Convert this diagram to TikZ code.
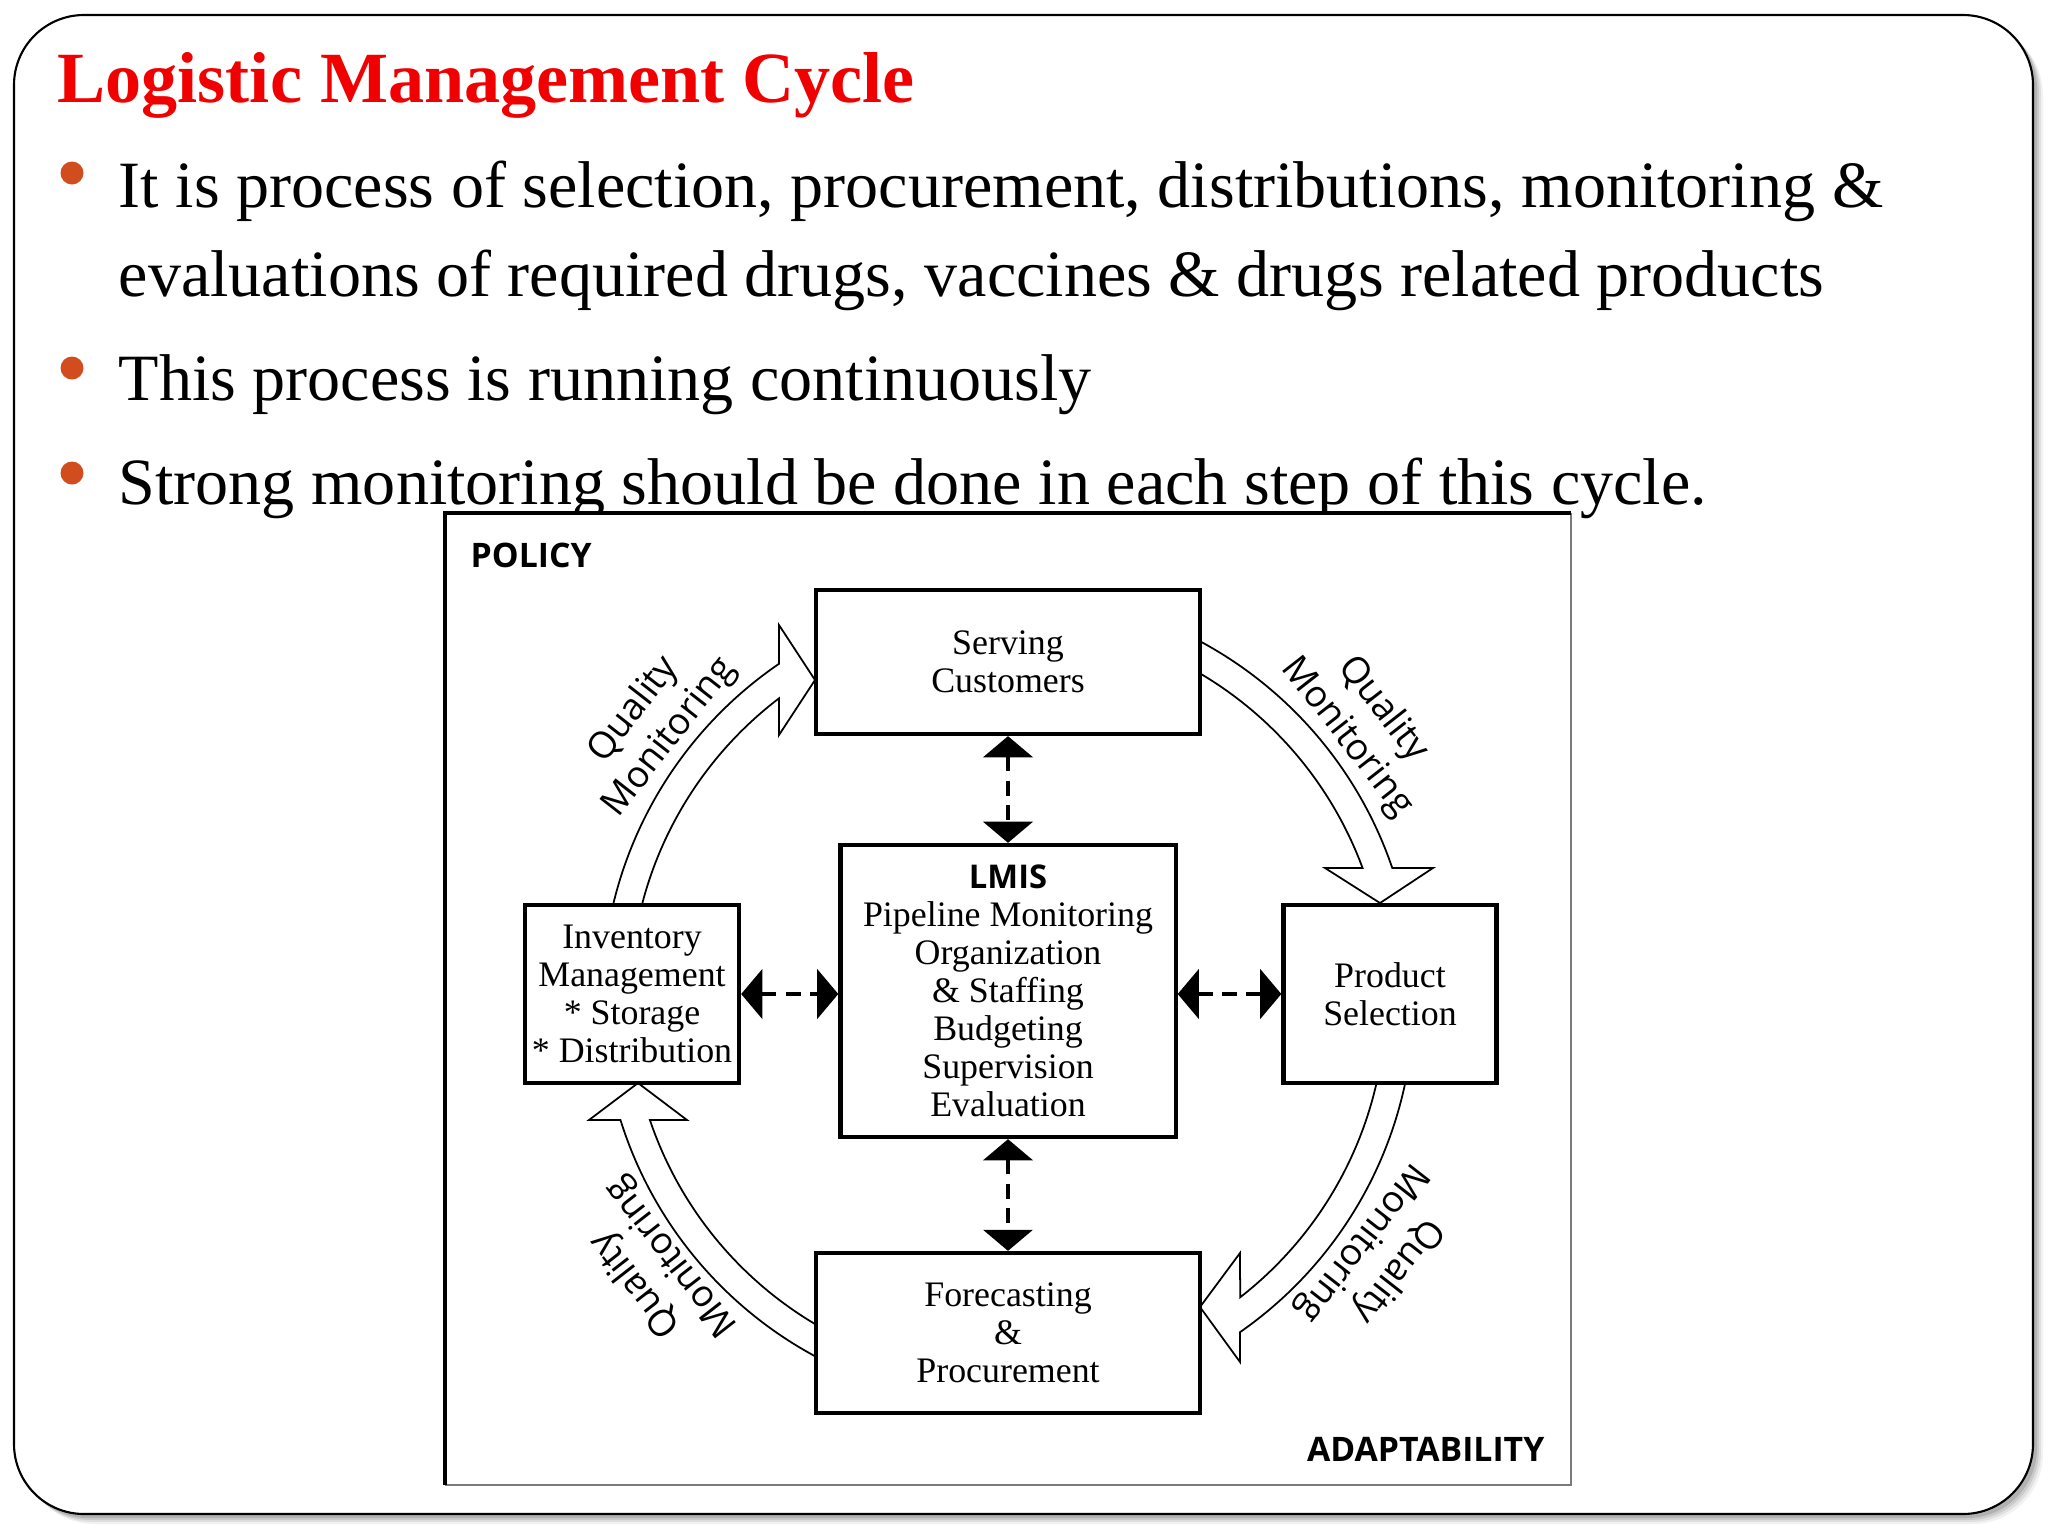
\documentclass[tikz,border=0pt]{standalone}
\usepackage{fontspec}
\setmainfont{Liberation Serif}
\newfontfamily\opensans{Open Sans}
\usepackage{tikz}
\usetikzlibrary{arrows.meta}
\definecolor{titlered}{HTML}{F00000}
\definecolor{bulletorange}{HTML}{D14D1E}
\definecolor{panelgray}{HTML}{7A7A7A}
\tikzset{
  procbox/.style={draw,line width=1.2pt,fill=white,align=center,inner sep=0pt,font=\fontsize{10.2pt}{10.8pt}\selectfont},
  dashlink/.style={line width=1.1pt,dash pattern=on 4.3pt off 2.6pt,{Triangle[width=14pt,length=6pt]}-{Triangle[width=14pt,length=6pt]}},
  qmarrow/.style={fill=white,draw,line width=0.5pt},
  qmlabel/.style={align=center,inner sep=0pt,font=\opensans\fontsize{10.5pt}{12.8pt}\selectfont},
  panellabel/.style={inner sep=0pt,font=\opensans\bfseries\fontsize{9.6pt}{11pt}\selectfont},
  bodyline/.style={anchor=base west,inner sep=0pt,font=\fontsize{18.8pt}{22pt}\selectfont}
}
\begin{document}
\begin{tikzpicture}[x=0.01cm,y=0.01cm]
\useasboundingbox (0,0) rectangle (2048,-1536);
\fill[white] (0,0) rectangle (2048,-1536);
% slide frame and its soft shadow
\foreach \s/\o in {10/0.05,8/0.07,6/0.09,4/0.12}
  \fill[black,opacity=\o,rounded corners=0.7cm] (14+\s,-15-\s) rectangle (2033+\s,-1514-\s);
\draw[line width=0.6pt,fill=white,rounded corners=0.7cm] (14,-15) rectangle (2033,-1514);
% title and bullet text
\node[anchor=base west,inner sep=0pt,text=titlered,font=\bfseries\fontsize{20.5pt}{24pt}\selectfont] (title) at (57,-102) {Logistic Management Cycle};
\node[bodyline] (l1) at (118,-207) {It is process of selection, procurement, distributions, monitoring \&};
\node[bodyline] (l2) at (118,-296) {evaluations of required drugs, vaccines \& drugs related products};
\node[bodyline] (l3) at (118,-400) {This process is running continuously};
\node[bodyline] (l4) at (118,-504) {Strong monitoring should be done in each step of this cycle.};
\foreach \y in {173,368,473} \fill[bulletorange] (72,-\y) circle (11.5);
% diagram panel
\fill[white] (445,-513) rectangle (1571,-1485);
\draw[panelgray,line width=0.6pt] (1571,-513) -- (1571,-1485) -- (445,-1485);
\draw[line width=1.3pt] (445,-1485) -- (445,-513) -- (1571,-513);
\node[panellabel,anchor=base west] (policy) at (470,-567) {POLICY};
\node[panellabel,anchor=base east] (adapt) at (1545,-1461) {ADAPTABILITY};
% hollow quality monitoring arrows round the cycle
\coordinate (cyc) at (1008,-999);
\draw[qmarrow] ([shift={(172:406)}]cyc) arc[start angle=172,end angle=124.33,radius=406] -- (779,-625) -- (815,-680) -- (779,-735) -- ([shift={(127.3:378)}]cyc) arc[start angle=127.3,end angle=172,radius=378] -- cycle;
\draw[qmarrow] ([shift={(65:406)}]cyc) arc[start angle=65,end angle=18.82,radius=406] -- (1433,-868) -- (1380,-903) -- (1325,-868) -- ([shift={(20.28:378)}]cyc) arc[start angle=20.28,end angle=65,radius=378] -- cycle;
\draw[qmarrow] ([shift={(-5:406)}]cyc) arc[start angle=-5,end angle=-55.15,radius=406] -- (1240,-1362) -- (1200,-1307) -- (1240,-1253) -- ([shift={(-52.1:378)}]cyc) arc[start angle=-52.1,end angle=-5,radius=378] -- cycle;
\draw[qmarrow] ([shift={(245:406)}]cyc) arc[start angle=245,end angle=197.34,radius=406] -- (589,-1120) -- (638,-1083) -- (687,-1120) -- ([shift={(198.67:378)}]cyc) arc[start angle=198.67,end angle=245,radius=378] -- cycle;
\node[qmlabel,rotate=52] (qm1) at ([shift={(142.3:450)}]cyc) {Quality\\Monitoring};
\node[qmlabel,rotate=-52] (qm2) at ([shift={(37.7:451)}]cyc) {Quality\\Monitoring};
\node[qmlabel,rotate=232] (qm3) at ([shift={(325.3:452)}]cyc) {Quality\\Monitoring};
\node[qmlabel,rotate=128] (qm4) at ([shift={(217.5:446)}]cyc) {Quality\\Monitoring};
% cycle steps
\node[procbox,minimum width=3.84cm,minimum height=1.44cm] (serv) at (1008,-662) {Serving\\Customers};
\node[procbox,minimum width=3.35cm,minimum height=2.92cm] (lmis) at (1008,-991) {{\opensans\bfseries\fontsize{9.3pt}{10.8pt}\selectfont LMIS}\\Pipeline Monitoring\\Organization\\\& Staffing\\Budgeting\\Supervision\\Evaluation};
\node[procbox,minimum width=2.14cm,minimum height=1.78cm] (inv) at (632,-994) {Inventory\\Management\\* Storage\\* Distribution};
\node[procbox,minimum width=2.13cm,minimum height=1.78cm] (prod) at (1390,-994) {Product\\Selection};
\node[procbox,minimum width=3.84cm,minimum height=1.60cm] (fore) at (1008,-1333) {Forecasting\\\&\\Procurement};
\draw[dashlink] (serv) -- (lmis);
\draw[dashlink] (lmis) -- (fore);
\draw[dashlink] (inv) -- (inv -| lmis.west);
\draw[dashlink] (lmis.east |- prod) -- (prod);
\end{tikzpicture}
\end{document}
